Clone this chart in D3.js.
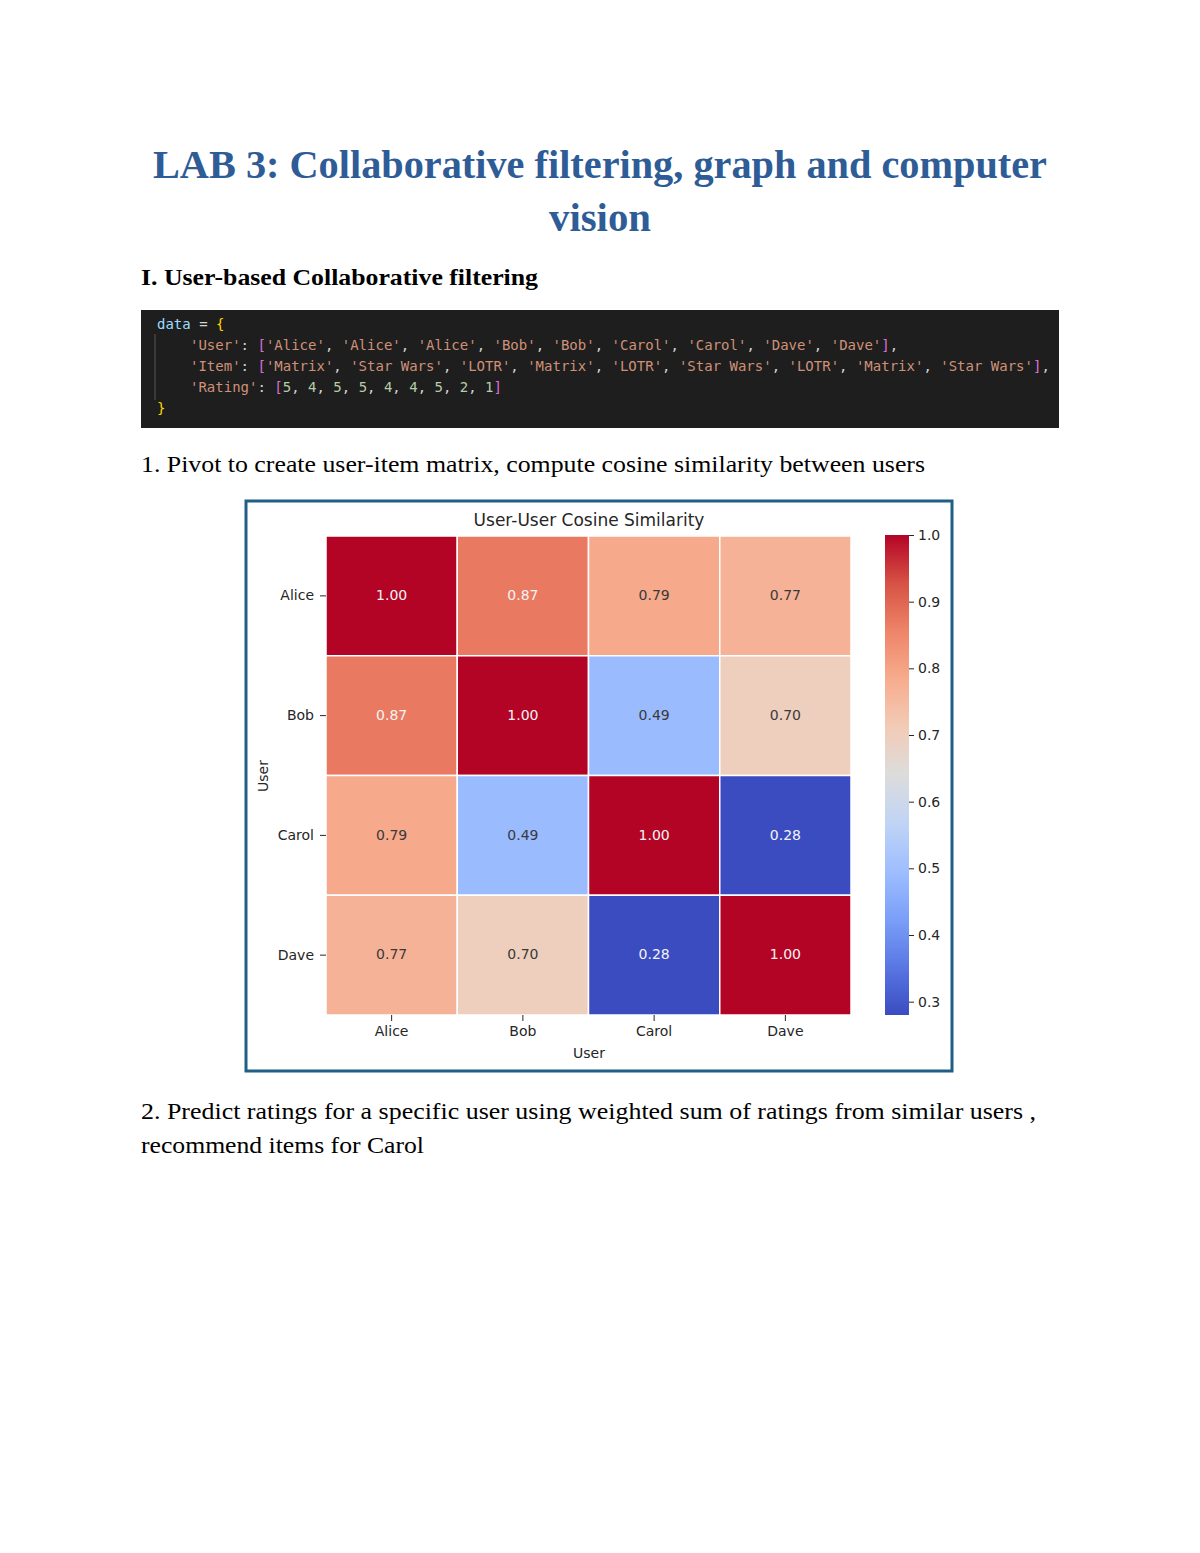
<!DOCTYPE html>
<html><head><meta charset="utf-8">
<script src="https://cdn.jsdelivr.net/npm/d3@7"></script>
<style>
body{margin:0;background:#fff;}
svg{display:block;}
</style></head>
<body>
<svg id="page" width="1200" height="1553"></svg>
<script>
// ---- data ----
const users = ["Alice", "Bob", "Carol", "Dave"];
const similarity = [
  [1.00, 0.87, 0.79, 0.77],
  [0.87, 1.00, 0.49, 0.70],
  [0.79, 0.49, 1.00, 0.28],
  [0.77, 0.70, 0.28, 1.00]
];
const colorbarTicks = [0.3, 0.4, 0.5, 0.6, 0.7, 0.8, 0.9, 1.0];
const codeUsers = ["Alice", "Alice", "Alice", "Bob", "Bob", "Carol", "Carol", "Dave", "Dave"];
const codeItems = ["Matrix", "Star Wars", "LOTR", "Matrix", "LOTR", "Star Wars", "LOTR", "Matrix", "Star Wars"];
const codeRatings = [5, 4, 5, 5, 4, 4, 5, 2, 1];
// coolwarm colormap anchors (11 samples)
const coolwarmStops = ["#3b4cc0", "#5977e3", "#7b9ff9", "#9ebeff", "#c0d4f5", "#dddcdc", "#f2cbb7", "#f7ac8e", "#ee8468", "#d65244", "#b40426"];

const svg = d3.select("#page");
const serif = "'Liberation Serif', 'Times New Roman', serif";
const sans = "'DejaVu Sans', sans-serif";
const mono = "'DejaVu Sans Mono', monospace";

function docText(x, y, txt, size, bold, fill, len, anchor){
  const t = svg.append("text").attr("x", x).attr("y", y)
    .attr("font-family", serif).attr("font-weight", bold ? "bold" : "normal")
    .attr("font-size", size).attr("fill", fill).attr("text-anchor", anchor || "start").text(txt);
  if (len) t.attr("textLength", len).attr("lengthAdjust", "spacingAndGlyphs");
  return t;
}

// ---- document text ----
docText(600, 178, "LAB 3: Collaborative filtering, graph and computer", 39, true, "#2e5c96", 894, "middle");
docText(600, 231, "vision", 39, true, "#2e5c96", 102, "middle");
docText(141, 285, "I. User-based Collaborative filtering", 24, true, "#000", 397);

// ---- code box ----
svg.append("rect").attr("x", 141).attr("y", 310).attr("width", 918).attr("height", 118).attr("fill", "#1e1e1e");
svg.append("line").attr("x1", 155).attr("x2", 155).attr("y1", 334).attr("y2", 400).attr("stroke", "#555").attr("stroke-width", 1);
const C = {kw:"#9cdcfe", punct:"#d4d4d4", brace:"#ffd700", str:"#ce9178", brack:"#da70d6", num:"#b5cea8"};
function codeLine(y, x, parts){
  const t = svg.append("text").attr("x", x).attr("y", y).attr("font-family", mono).attr("font-size", 14)
    .attr("xml:space", "preserve").style("white-space", "pre");
  parts.forEach(p => t.append("tspan").attr("fill", p[1]).text(p[0]));
}
function listParts(key, arr, isStr){
  const parts = [["'" + key + "'", C.str], [": ", C.punct], ["[", C.brack]];
  arr.forEach((v, i) => {
    parts.push([isStr ? "'" + v + "'" : String(v), isStr ? C.str : C.num]);
    if (i < arr.length - 1) parts.push([", ", C.punct]);
  });
  parts.push(["]", C.brack]);
  parts.push([isStr ? "," : "", C.punct]);
  return parts;
}
codeLine(329, 157, [["data", C.kw], [" = ", C.punct], ["{", C.brace]]);
codeLine(350, 190, listParts("User", codeUsers, true));
codeLine(371, 190, listParts("Item", codeItems, true));
codeLine(392, 190, listParts("Rating", codeRatings, false));
codeLine(413, 157, [["}", C.brace]]);

docText(141, 472, "1. Pivot to create user-item matrix, compute cosine similarity between users", 24, false, "#000", 784);
docText(141, 1119, "2. Predict ratings for a specific user using weighted sum of ratings from similar users ,", 24, false, "#000", 895);
docText(141, 1153, "recommend items for Carol", 24, false, "#000", 283);

// ---- chart frame ----
svg.append("rect").attr("x", 246).attr("y", 501).attr("width", 706).attr("height", 570)
  .attr("fill", "#fff").attr("stroke", "#1f5f86").attr("stroke-width", 3);

// ---- heatmap ----
const x = d3.scaleBand().domain(users).range([326, 851]);
const y = d3.scaleBand().domain(users).range([536, 1015]);
const flat = similarity.flat();
const vmin = d3.min(flat), vmax = d3.max(flat);
const interp = d3.piecewise(d3.interpolateRgb, coolwarmStops);
const color = d3.scaleSequential(interp).domain([vmin, vmax]);

const cells = [];
users.forEach((r, i) => users.forEach((c, j) => cells.push({row: r, col: c, v: similarity[i][j]})));

const g = svg.append("g");
g.selectAll("rect.cell").data(cells).join("rect").attr("class", "cell")
  .attr("x", d => x(d.col)).attr("y", d => y(d.row))
  .attr("width", x.bandwidth()).attr("height", y.bandwidth())
  .attr("fill", d => color(d.v)).attr("stroke", "#fff").attr("stroke-width", 1.5);

function lum(c){
  const rgb = d3.rgb(c);
  const f = v => { v /= 255; return v <= 0.03928 ? v / 12.92 : Math.pow((v + 0.055) / 1.055, 2.4); };
  return 0.2126 * f(rgb.r) + 0.7152 * f(rgb.g) + 0.0722 * f(rgb.b);
}
g.selectAll("text.ann").data(cells).join("text").attr("class", "ann")
  .attr("x", d => x(d.col) + x.bandwidth() / 2).attr("y", d => y(d.row) + y.bandwidth() / 2)
  .attr("dy", "0.3em").attr("text-anchor", "middle")
  .attr("font-family", sans).attr("font-size", 14)
  .attr("fill", d => lum(color(d.v)) > 0.408 ? "#3a3a3a" : "#f4f4f4")
  .text(d => d.v.toFixed(2));

// axes
const xAxis = svg.append("g").attr("transform", "translate(0,1015)")
  .call(d3.axisBottom(x).tickSize(6).tickPadding(5));
const yAxis = svg.append("g").attr("transform", "translate(326,0)")
  .call(d3.axisLeft(y).tickSize(6).tickPadding(6));
[xAxis, yAxis].forEach(a => {
  a.select(".domain").remove();
  a.selectAll(".tick line").attr("stroke", "#262626").attr("stroke-width", 1);
  a.selectAll(".tick text").attr("font-family", sans).attr("font-size", 14).attr("fill", "#262626");
});

svg.append("text").attr("x", 589).attr("y", 1058).attr("text-anchor", "middle")
  .attr("font-family", sans).attr("font-size", 14).attr("fill", "#262626").text("User");
svg.append("text").attr("transform", "translate(268,776) rotate(-90)").attr("text-anchor", "middle")
  .attr("font-family", sans).attr("font-size", 14).attr("fill", "#262626").text("User");
svg.append("text").attr("x", 589).attr("y", 526).attr("text-anchor", "middle")
  .attr("font-family", sans).attr("font-size", 17).attr("fill", "#262626").text("User-User Cosine Similarity");

// ---- colorbar ----
const cbY = d3.scaleLinear().domain([vmin, vmax]).range([1015, 535]);
const defs = svg.append("defs");
const grad = defs.append("linearGradient").attr("id", "cbgrad").attr("x1", 0).attr("y1", 1).attr("x2", 0).attr("y2", 0);
d3.range(0, 1.0001, 0.02).forEach(t => {
  grad.append("stop").attr("offset", t).attr("stop-color", interp(t));
});
svg.append("rect").attr("x", 885).attr("y", 535).attr("width", 24).attr("height", 480).attr("fill", "url(#cbgrad)");
const cbAxis = svg.append("g").attr("transform", "translate(909,0)")
  .call(d3.axisRight(cbY).tickValues(colorbarTicks).tickFormat(d3.format(".1f")).tickSize(5).tickPadding(4));
cbAxis.select(".domain").remove();
cbAxis.selectAll(".tick line").attr("stroke", "#262626");
cbAxis.selectAll(".tick text").attr("font-family", sans).attr("font-size", 14).attr("fill", "#262626");
</script>
</body></html>
